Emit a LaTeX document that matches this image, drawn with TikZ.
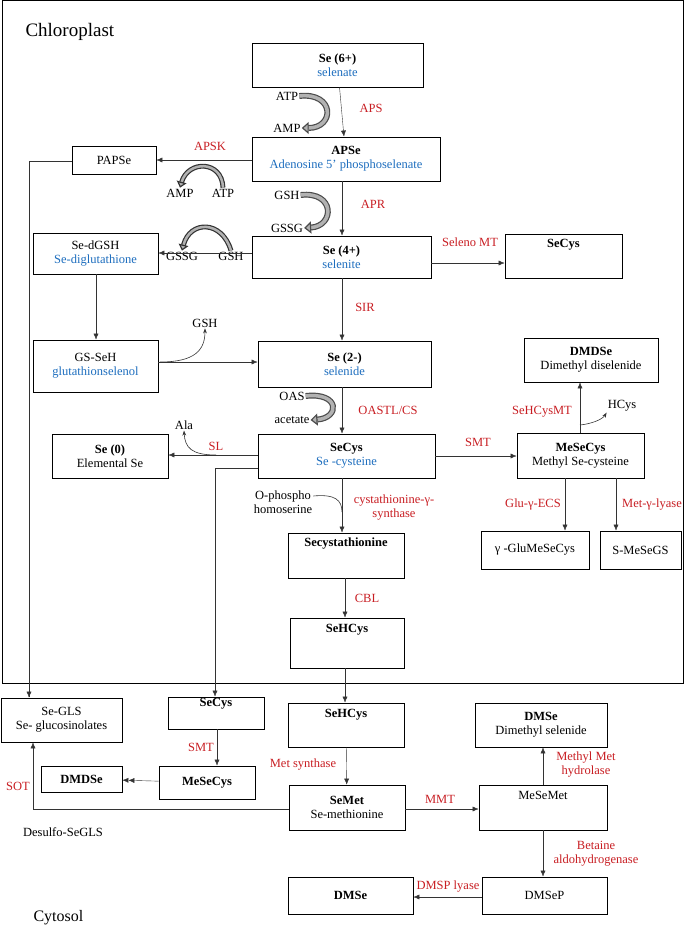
\documentclass[tikz,border=0pt]{standalone}
\usepackage{fontspec}
\setmainfont{Liberation Serif}
\usetikzlibrary{arrows.meta}
\definecolor{enz}{RGB}{200,30,35}
\definecolor{nam}{RGB}{30,110,190}
\begin{document}
\begin{tikzpicture}[x=1pt, y=-1pt, font=\fontsize{12.5}{14}\selectfont,
  box/.style={draw, thick, align=center, inner sep=0pt},
  en/.style={text=enz, align=center, inner sep=1pt},
  lb/.style={align=center, inner sep=1pt},
  ar/.style={draw=black!80, -{Latex[length=6pt,width=5pt]}},
  ln/.style={draw=black!80},
  fat/.style={draw=black!70, line width=1.2pt, double=gray!60, double distance=3.5pt, -{Triangle[length=7pt,width=12pt,fill=gray!60]}},
  thin/.style={draw=black!80, semithick, -{Stealth[length=5pt]}}]
\useasboundingbox (0,0) rectangle (685,930);
% compartment
\draw[thick] (2,0) rectangle (683,683);
\node[font=\fontsize{19}{22}\selectfont, anchor=west] (chl) at (22,32) {Chloroplast};
\node[font=\fontsize{16}{19}\selectfont, anchor=west] (cyt) at (30,918) {Cytosol};
% chloroplast boxes
\newcommand{\bx}[6]{\node[box, minimum width=#4-#2, minimum height=#5-#3] (#1) at ({(#2+#4)/2},{(#3+#5)/2}) {#6};}
\bx{se6}{252}{43}{423}{87}{\textbf{Se (6+)}\\\textcolor{nam}{selenate}}
\bx{apse}{252}{137}{440}{181}{\textbf{APSe}\\\textcolor{nam}{Adenosine 5’ phosphoselenate}}
\bx{papse}{72}{146}{156}{174}{PAPSe}
\bx{se4}{252}{236}{431}{278}{\textbf{Se (4+)}\\\textcolor{nam}{selenite}}
\bx{sedgsh}{33}{233}{158}{274}{Se-dGSH\\\textcolor{nam}{Se-diglutathione}}
\bx{secysA}{505}{234}{622}{278}{\textbf{SeCys}\\[12pt]}
\bx{gsseh}{33}{340}{158}{392}{GS-SeH\\\textcolor{nam}{glutathionselenol}}
\bx{se2}{258}{341}{431}{387}{\textbf{Se (2-)}\\\textcolor{nam}{selenide}}
\bx{dmdseA}{524}{338}{658}{382}{\textbf{DMDSe}\\Dimethyl diselenide}
\bx{se0}{52}{434}{168}{478}{\textbf{Se (0)}\\Elemental Se}
\bx{secys}{258}{434}{435}{478}{\textbf{SeCys}\\\textcolor{nam}{Se -cysteine}}
\bx{mesecysA}{517}{433}{644}{478}{\textbf{MeSeCys}\\Methyl Se-cysteine}
\bx{secyst}{288}{533}{404}{578}{\textbf{Secystathionine}\\[12pt]}
\bx{glu}{481}{531}{589}{569}{γ -GluMeSeCys}
\bx{smesegs}{600}{531}{681}{569}{S-MeSeGS}
\bx{sehcysA}{290}{618}{404}{668}{\textbf{SeHCys}\\[16pt]}
% cytosol boxes
\bx{segls}{1}{698}{122}{742}{Se-GLS\\Se- glucosinolates}
\bx{secysB}{168}{697}{264}{729}{\textbf{SeCys}\\[8pt]}
\bx{sehcysB}{288}{703}{404}{747}{\textbf{SeHCys}\\[10pt]}
\bx{dmseA}{475}{703}{607}{747}{\textbf{DMSe}\\Dimethyl selenide}
\bx{dmdseB}{41}{766}{122}{792}{\textbf{DMDSe}}
\bx{mesecysB}{159}{766}{255}{799}{\textbf{MeSeCys}}
\bx{semet}{289}{785}{405}{830}{\textbf{SeMet}\\Se-methionine}
\bx{mesemet}{479}{785}{607}{830}{MeSeMet\\[10pt]}
\bx{dmseB}{288}{877}{413}{914}{\textbf{DMSe}}
\bx{dmsep}{482}{877}{607}{914}{DMSeP}
% enzyme labels
\node[en] (aps) at (371,108) {APS};
\node[en] (apsk) at (210,146) {APSK};
\node[en] (apr) at (373,204) {APR};
\node[en] (selmt) at (470,242) {Seleno MT};
\node[en] (sir) at (365,307) {SIR};
\node[en] (oastl) at (388,410) {OASTL/CS};
\node[en] (sl) at (216,446) {SL};
\node[en] (smtA) at (478,442) {SMT};
\node[en] (sehmt) at (542,412) {SeHCysMT};
\node[en] (cgs) at (394,508) {cystathionine-γ-\\synthase};
\node[en] (gluecs) at (533,504) {Glu-γ-ECS};
\node[en] (mgl) at (652,505) {Met-γ-lyase};
\node[en] (cbl) at (367,598) {CBL};
\node[en] (smtB) at (201,747) {SMT};
\node[en] (mets) at (303,765) {Met synthase};
\node[en] (sot) at (18,786) {SOT};
\node[en] (mmt) at (440,799) {MMT};
\node[en] (mmh) at (586,765) {Methyl Met\\hydrolase};
\node[en] (bad) at (596,854) {Betaine\\aldohydrogenase};
\node[en] (dmspl) at (448,887) {DMSP lyase};
% cofactor labels
\node[lb] (atp1) at (287,96) {ATP};
\node[lb] (amp1) at (287,128) {AMP};
\node[lb] (amp2) at (180,193) {AMP};
\node[lb] (atp2) at (223,193) {ATP};
\node[lb] (gsh1) at (287,195) {GSH};
\node[lb] (gssg1) at (287,228) {GSSG};
\node[lb] (gssg2) at (182,256) {GSSG};
\node[lb] (gsh2) at (231,256) {GSH};
\node[lb] (gsh3) at (205,323) {GSH};
\node[lb] (oas) at (292,396) {OAS};
\node[lb] (acet) at (292,420) {acetate};
\node[lb] (ala) at (184,425) {Ala};
\node[lb] (hcys) at (622,406) {HCys};
\node[lb] (ophos) at (283,502) {O-phospho\\homoserine};
\node[lb] (desulfo) at (63,832) {Desulfo-SeGLS};
% main path
\draw[ar] (se6) -- (apse);
\draw[ar] (apse.south -| 342,0) -- (se4.north -| 342,0);
\draw[ar] (se4.south -| 342,0) -- (se2.north -| 342,0);
\draw[ar] (se2.south -| 342,0) -- (secys.north -| 342,0);
\draw[ar] (secys.south -| 342,0) -- (secyst.north -| 342,0);
\draw[ar] (secyst.south -| 345,0) -- (sehcysA.north -| 345,0);
\draw[ar] (sehcysA.south -| 345,0) -- (sehcysB.north -| 345,0);
\draw[ar] (sehcysB) -- (semet);
\draw[ar] (apse.west |- papse) -- (papse.east);
\draw[ar] (se4.west |- 0,253) -- (sedgsh.east |- 0,253);
\draw[ar] (se4.east |- 0,263) -- (secysA.west |- 0,263);
\draw[ar] (sedgsh.south -| 96,0) -- (gsseh.north -| 96,0);
\draw[ar] (gsseh.east |- 0,362) -- (se2.west |- 0,362);
\draw[ar] (secys.west |- 0,455) -- (se0.east |- 0,455);
\draw[ar] (secys.east |- 0,456) -- (mesecysA.west |- 0,456);
\draw[ar] (mesecysA.north -| 580,0) -- (dmdseA.south -| 580,0);
\draw[ar] (mesecysA.south -| 565,0) -- (glu.north -| 565,0);
\draw[ar] (mesecysA.south -| 616,0) -- (smesegs.north -| 616,0);
\draw[ln] (papse.west |- 0,161) -| (29,697) coordinate (c1);
\draw[ar] (c1) -- (segls.north -| 29,0);
\draw[ln] (secys.west |- 0,468) -| (215,692) coordinate (c2);
\draw[ar] (c2) -- (secysB.north -| 215,0);
\draw[ar] (secysB.south -| 217,0) -- (mesecysB.north -| 217,0);
\draw[ar, -{Latex[length=6pt,width=5pt]. Latex[length=6pt,width=5pt]}] (mesecysB) -- (dmdseB);
\draw[ln] (semet.west |- 0,809) -| (33,780) coordinate (c3);
\draw[ar] (c3) -- (segls.south -| 33,0);
\draw[ar] (semet.east |- 0,809) -- (mesemet.west |- 0,809);
\draw[ar] (mesemet.north -| 543,0) -- (dmseA.south -| 543,0);
\draw[ar] (mesemet.south -| 543,0) -- (dmsep.north -| 543,0);
\draw[ar] (dmsep.west |- 0,897) -- (dmseB.east |- 0,897);
% side reactions
\draw[fat] (atp1.east) .. controls (335,92) and (335,128) .. (amp1.east);
\draw[fat] (gsh1.east) .. controls (335,191) and (335,226) .. (gssg1.east);
\draw[fat] (oas.east) .. controls (340,392) and (340,418) .. (acet.east);
\draw[draw=black!80, line width=1.2pt, double=gray!60, double distance=2.5pt, -{Triangle[length=6pt,width=10pt,fill=gray!60]}]
  (atp2.north) .. controls (222,160) and (188,160) .. (amp2.north);
\draw[draw=black!80, line width=1.2pt, double=gray!60, double distance=2.5pt, -{Triangle[length=6pt,width=10pt,fill=gray!60]}]
  (gsh2.north) .. controls (222,220) and (190,220) .. (gssg2.north);
\draw[thin] (160,362) .. controls (195,362) and (205,350) .. (gsh3.south);
\draw[thin] (216,455) .. controls (192,455) and (185,448) .. (ala.south);
\draw[thin] (580,425) .. controls (590,424) and (602,420) .. (hcys.south west);
\draw[semithick, draw=black!80] (ophos.east |- 0,496) .. controls (335,494) and (342,500) .. (342,512);
\end{tikzpicture}
\end{document}
